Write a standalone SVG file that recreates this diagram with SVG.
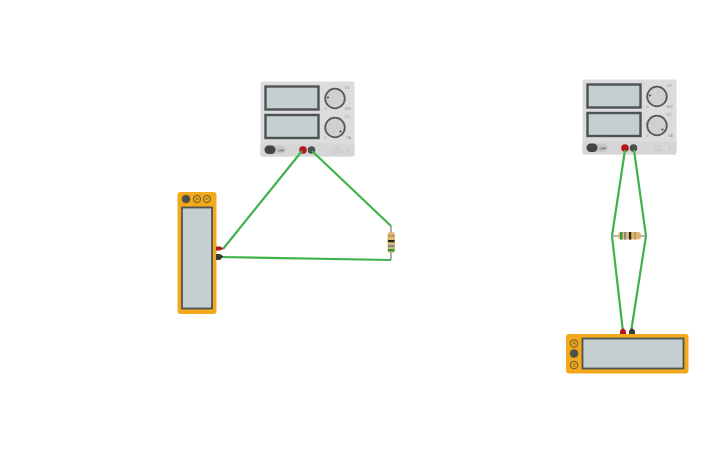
<svg xmlns="http://www.w3.org/2000/svg" width="725" height="453" viewBox="0 0 725 453">
<style>
text{font-family:"Liberation Sans",Arial,sans-serif;fill:#8a8a8a}
.psu{fill:#dcdcdc}
.bar{fill:#d6d6d6}
.lcd{fill:#c5ced1;stroke:#4d5353;stroke-width:2.400}
.knob{fill:#d0d0d0;stroke:#5a5a5a;stroke-width:1.800}
.wire{fill:none;stroke:#3fb34a;stroke-width:2.200}
.lead{fill:none;stroke:#9a9a9a;stroke-width:1.600}
.body{fill:#ddb77a}
.mm{fill:#f2a91c}
.btn{fill:none;stroke:#6a5a30;stroke-width:1}
.btnd{fill:#4d4d4d;stroke:#6a5a30;stroke-width:.6}
.red{fill:#b3161b}
.blk{fill:#3a3a3a}
.s{font-size:3.5px}
.g{font-size:5px;fill:#6a5a30;text-anchor:middle}
</style>
<defs>
<g id="supply">
<rect class="psu" x="0" y="0" width="94" height="75" rx="2"/>
<rect class="bar" x="0" y="62" width="94" height="13" rx="2"/>
<rect class="lcd" x="5" y="5" width="53" height="23"/>
<rect class="lcd" x="5" y="33.500" width="53" height="23"/>
<circle class="knob" cx="74.500" cy="17" r="9.800"/>
<circle class="knob" cx="74.500" cy="46" r="9.800"/>
<circle cx="67.500" cy="16" r="1" fill="#444"/>
<circle cx="80" cy="50" r="1" fill="#444"/>
<text class="s" x="64" y="28">0</text>
<text class="s" x="84" y="28">30V</text>
<text class="s" x="64" y="57">0</text>
<text class="s" x="86" y="57">5A</text>
<text class="s" x="84" y="7">CV</text>
<text class="s" x="84" y="36">CC</text>
<rect x="4" y="64" width="21" height="8.500" rx="4.200" fill="#c6c6c6"/>
<rect x="4" y="64" width="11" height="8.500" rx="4.200" fill="#444"/>
<text x="17" y="70" font-size="3.500" style="fill:#555">OFF</text>
<circle cx="42.500" cy="68.500" r="3.800" class="red"/>
<circle cx="51" cy="68.500" r="3.800" fill="#4a4f4f"/>
<text x="71" y="68" font-size="3" style="fill:#c4c4c4">DUAL</text>
<text x="71" y="72" font-size="3" style="fill:#c4c4c4">SUPPLY</text>
<path d="M86 71l2-3h-1l1-2" fill="none" stroke="#c0c0c0" stroke-width=".7"/>
</g>
</defs>

<g id="supply-left"><use href="#supply" x="260.500" y="81.500"/></g>
<g id="supply-right"><use href="#supply" x="582.500" y="79.500"/></g>

<g id="connectors">
<path class="wire" d="M302 151L223 249"/>
<path class="wire" d="M312 151L391 226"/>
<path class="wire" d="M219 257L391 260"/>
<path class="lead" d="M391 226V260"/>
<path class="wire" d="M625 150L612 236L623 332"/>
<path class="wire" d="M634 150L646 236L631 332"/>
<path class="lead" d="M612 236H646"/>
</g>

<g id="meter-left">
<rect class="mm" x="177.500" y="192" width="39" height="122" rx="3"/>
<rect x="182" y="207.500" width="30" height="101" fill="#c5ced1" stroke="#4d5353" stroke-width="1.800"/>
<circle class="btnd" cx="186" cy="199" r="4"/>
<circle class="btn" cx="197" cy="199" r="3.600"/>
<circle class="btn" cx="207" cy="199" r="3.600"/>
<text class="g" x="197" y="200.800" transform="rotate(90 197 199)">A</text>
<text class="g" x="207" y="200.800" transform="rotate(90 207 199)">V</text>
<path class="red" d="M216 246.500h4l3 1.500v1l-3 1.500h-4z"/>
<path class="blk" d="M216 254h4l3 2v1l-3 3h-4z"/>
</g>

<g id="resistor-left">
<rect class="body" x="387.500" y="232" width="7.500" height="21" rx="3"/>
<rect x="388" y="240" width="6.500" height="2.200" fill="#222"/>
<rect x="388" y="245" width="6.500" height="2.200" fill="#888"/>
<rect x="388" y="249" width="6.500" height="2.400" fill="#2a9a3a"/>
<rect x="388" y="235.500" width="6.500" height="1" fill="#a08030"/>
</g>

<g id="resistor-right">
<rect class="body" x="618" y="232" width="23" height="7.500" rx="3"/>
<rect x="620" y="232" width="2.400" height="7.500" fill="#2a9a3a"/>
<rect x="624" y="232" width="2" height="7.500" fill="#888"/>
<rect x="629" y="232" width="2.200" height="7.500" fill="#222"/>
<rect x="634.500" y="232" width="1" height="7.500" fill="#a08030"/>
</g>

<g id="meter-right">
<rect class="mm" x="566" y="334" width="122.500" height="39.500" rx="3"/>
<rect x="582.500" y="338.500" width="101" height="30" fill="#c5ced1" stroke="#4d5353" stroke-width="1.800"/>
<circle class="btn" cx="574" cy="343.500" r="3.800"/>
<circle class="btnd" cx="574" cy="353.500" r="4"/>
<circle class="btn" cx="574" cy="365" r="3.800"/>
<text class="g" x="574" y="345.300">A</text>
<text class="g" x="574" y="366.800">V</text>
<path class="red" d="M620 334v-3l2-2.500h2l2 2.500v3z"/>
<path class="blk" d="M629 334v-3l2-2.500h2l2 2.500v3z"/>
</g>
</svg>
